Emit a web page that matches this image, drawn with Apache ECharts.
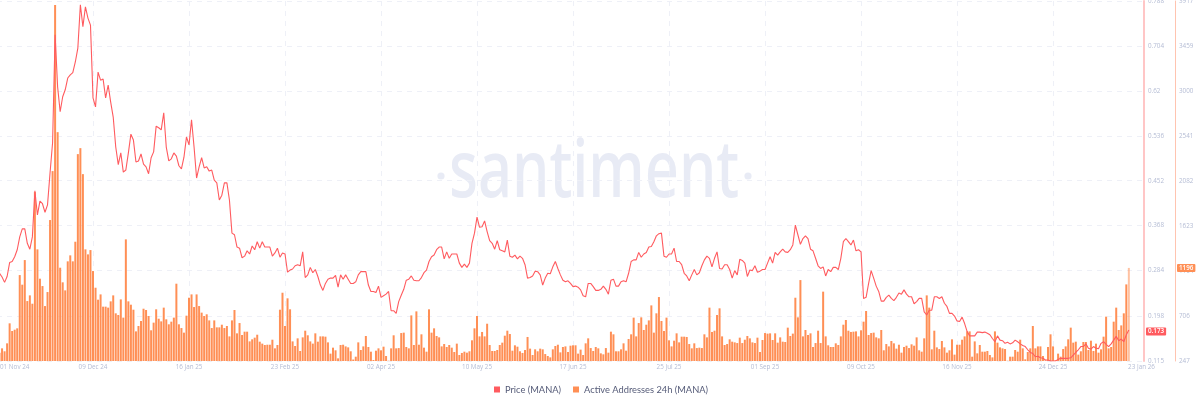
<!DOCTYPE html>
<html>
<head>
<meta charset="utf-8">
<title>MANA</title>
<script src="https://cdn.jsdelivr.net/npm/echarts@6/dist/echarts.min.js"></script>
<style>
html, body { margin: 0; padding: 0; background: #fff; }
#chart { width: 1202px; height: 404px; }
</style>
</head>
<body>
<div id="chart"></div>
<script>
var firstDay = '2024-11-02';

var priceValues = [
  .279,.272,.262,.273,.299,.301,.310,.323,.347,.362,.362,.335,.324,.347,.433,.388,.414,.409,.393,.407,
  .467,.523,.725,.627,.581,.609,.622,.644,.650,.654,.674,.700,.781,.740,.777,.756,.743,.607,.590,.655,
  .640,.642,.607,.631,.599,.571,.515,.482,.504,.468,.472,.504,.539,.528,.487,.489,.502,.483,.478,.465,
  .495,.506,.554,.551,.547,.579,.515,.489,.493,.504,.498,.480,.474,.496,.534,.519,.566,.515,.457,.478,
  .495,.476,.478,.470,.472,.453,.448,.416,.425,.448,.448,.416,.354,.351,.328,.326,.308,.311,.321,.315,
  .330,.323,.338,.326,.338,.328,.328,.328,.311,.317,.326,.309,.317,.315,.281,.285,.287,.293,.295,.293,
  .319,.271,.276,.290,.280,.286,.273,.257,.247,.260,.268,.270,.270,.275,.253,.276,.268,.276,.268,.260,
  .260,.263,.276,.282,.282,.282,.257,.245,.245,.243,.255,.234,.237,.240,.245,.209,.209,.204,.226,.238,
  .249,.266,.268,.274,.266,.265,.265,.271,.280,.285,.301,.310,.313,.323,.328,.328,.306,.319,.307,.315,
  .315,.315,.298,.290,.296,.290,.298,.335,.354,.384,.365,.366,.377,.357,.340,.335,.324,.340,.323,.321,
  .319,.341,.311,.309,.313,.306,.311,.307,.295,.270,.271,.274,.283,.282,.276,.257,.270,.279,.278,.291,
  .301,.288,.276,.266,.263,.265,.260,.254,.255,.253,.248,.237,.235,.260,.260,.254,.247,.247,.249,
  .255,.249,.240,.266,.268,.255,.255,.263,.265,.263,.279,.301,.304,.304,.318,.309,.315,.318,.328,.329,
  .338,.349,.353,.354,.311,.309,.315,.315,.326,.301,.301,.295,.279,.274,.265,.276,.286,.276,.280,.293,
  .304,.311,.307,.291,.307,.319,.288,.287,.295,.295,.286,.270,.284,.276,.305,.303,.298,.273,.285,.284,
  .293,.281,.283,.286,.286,.298,.310,.298,.318,.313,.319,.324,.319,.318,.323,.332,.369,.351,.333,.344,
  .349,.344,.324,.321,.307,.293,.288,.291,.274,.286,.282,.290,.290,.286,.307,.338,.344,.338,.332,.341,
  .321,.323,.319,.232,.234,.260,.284,.270,.255,.245,.227,.227,.234,.238,.232,.228,.234,.242,
  .240,.248,.240,.235,.235,.222,.226,.232,.232,.207,.201,.210,.210,.235,.235,.232,.235,.223,.217,.204,
  .204,.199,.190,.189,.197,.185,.170,.162,.162,.162,.169,.169,.168,.169,.167,.164,.157,.151,.162,.154,
  .153,.148,.150,.147,.149,.154,.151,.147,.144,.142,.136,.131,.129,.123,.124,.121,.120,.117,.117,.115,
  .115,.115,.118,.120,.120,.120,.120,.121,.126,.131,.136,.142,.142,.147,.139,.137,.142,.139,.138,.148,
  .151,.146,.142,.147,.154,.161,.153,.156,.151,.164,.173
];

var addressValues = [
  332,376,346,427,631,553,566,580,1123,1025,1276,858,916,831,1969,1385,1086,1011,807,950,
  1684,2183,3875,2580,1198,1049,967,1263,1324,1263,1463,2356,2417,2152,1385,1334,1378,1164,994,872,
  926,801,801,791,855,916,733,716,875,689,1487,855,821,770,549,604,655,780,767,706,
  560,638,774,678,651,791,672,621,648,689,1035,621,583,536,709,892,926,797,926,807,
  740,706,723,661,583,661,590,590,617,583,604,498,661,767,529,634,512,546,546,447,
  468,485,515,444,424,410,413,413,464,376,410,770,943,604,886,774,447,400,478,349,
  488,556,509,447,424,529,444,498,498,495,437,322,383,356,274,410,413,396,386,346,
  262,291,437,359,396,502,390,342,257,352,376,356,393,298,250,376,509,376,379,532,
  536,390,376,712,410,753,413,519,383,342,774,536,580,502,488,396,420,390,410,383,
  339,424,308,329,342,332,346,458,580,706,498,543,498,627,410,349,349,359,410,434,
  505,556,522,352,407,393,346,329,359,492,373,308,366,346,373,366,318,298,284,366,
  400,413,335,390,396,339,403,407,407,322,363,308,427,478,379,349,390,376,325,
  315,379,332,546,519,346,346,366,427,352,471,519,689,498,634,692,563,617,661,814,
  536,733,899,655,553,689,458,396,454,529,437,495,495,492,420,376,427,379,383,379,
  519,488,791,543,556,716,784,498,410,420,468,444,437,430,485,430,464,502,478,437,
  430,485,339,461,532,526,529,461,529,434,488,444,441,587,502,526,892,692,1072,498,
  563,512,529,390,430,556,430,954,498,407,390,390,427,410,498,617,665,556,543,546,
  549,498,560,648,757,512,532,536,488,478,563,356,420,396,451,427,373,413,
  332,390,403,379,417,403,488,356,342,478,916,791,366,556,386,369,451,386,332,356,
  468,312,413,413,464,498,549,549,291,447,325,410,342,342,349,308,284,549,434,386,
  376,369,250,291,291,359,342,464,376,264,339,376,604,376,396,396,298,254,390,519,
  396,254,322,291,369,396,468,587,434,444,312,346,441,441,359,454,349,424,332,366,
  495,699,376,390,648,791,563,610,733,1028,1196
];

var gridDays = ['2024-12-09','2025-01-16','2025-02-23','2025-04-02','2025-05-10','2025-06-17','2025-07-25','2025-09-01','2025-10-09','2025-11-16','2025-12-24'];
var tickLabels = ['01 Nov 24','09 Dec 24','16 Jan 25','23 Feb 25','02 Apr 25','10 May 25','17 Jun 25','25 Jul 25','01 Sep 25','09 Oct 25','16 Nov 25','24 Dec 25','23 Jan 26'];
// the first and last labels sit inside the plot edges, away from their own date
var tickLabelDays = ['2024-11-08'].concat(gridDays, ['2026-01-28']);
var priceTicks = [0.115,0.198,0.284,0.368,0.452,0.536,0.62,0.704,0.788];
var addressTicks = [247,706,1164,1623,2082,2541,3000,3459,3917];

// x axis counts days from firstDay
function dayNo(d) { return Math.round((Date.parse(d) - Date.parse(firstDay)) / 86400000); }

var priceData = priceValues.map(function (v, i) { return [i, v]; });
var addressData = addressValues.map(function (v, i) {
    var item = { value: [i, v] };
    if (i === addressValues.length - 1) item.itemStyle = { opacity: 0.55 };
    return item;
});

var labelByDay = {};
tickLabelDays.forEach(function (d, i) { labelByDay[dayNo(d)] = tickLabels[i]; });

var axisTextColor = '#b4bcd4';
var gridColor = '#eef0f7';
var priceColor = '#ff5b5f';
var addressColor = '#ff8f55';
var watermarkColor = '#e8ebf5';
var axisFont = 6.3;

var chart = echarts.init(document.getElementById('chart'));
chart.setOption({
    animation: false,
    grid: { left: -3, right: 58, top: 1, bottom: 43, outerBoundsMode: 'none' },
    graphic: [
        { type: 'text', x: 449, y: 134, scaleX: 0.745, z: -1, silent: true,
          style: { text: 'santiment', fill: watermarkColor, font: '500 80px "Noto Sans"' } },
        { type: 'circle', z: -1, silent: true, shape: { cx: 441, cy: 176, r: 3.6 }, style: { fill: watermarkColor } },
        { type: 'circle', z: -1, silent: true, shape: { cx: 748, cy: 176, r: 3.6 }, style: { fill: watermarkColor } }
    ],
    legend: {
        bottom: 5,
        left: 'center',
        icon: 'rect',
        itemWidth: 6,
        itemHeight: 6,
        itemGap: 12,
        textStyle: { color: '#555b78', fontSize: 9.3, fontFamily: 'Lato' },
        data: ['Price (MANA)', 'Active Addresses 24h (MANA)']
    },
    xAxis: {
        type: 'value',
        min: dayNo('2024-11-01'),
        max: dayNo('2026-01-29'),
        axisLine: { show: false },
        axisTick: { show: false, customValues: gridDays.map(dayNo) },
        axisLabel: {
            customValues: tickLabelDays.map(dayNo),
            formatter: function (v) { return labelByDay[v]; },
            color: axisTextColor,
            fontSize: axisFont,
            fontFamily: 'Open Sans',
            margin: 3
        },
        splitLine: { show: true, lineStyle: { color: gridColor, type: [5, 5] } }
    },
    yAxis: [
        {
            type: 'value',
            position: 'right',
            min: 0.115,
            max: 0.788,
            axisLine: { show: true, onZero: false, lineStyle: { color: '#ffc6c6', width: 2 } },
            axisTick: { show: false, customValues: priceTicks },
            axisLabel: {
                customValues: priceTicks,
                formatter: function (v) { return String(v); },
                color: axisTextColor, fontSize: axisFont, fontFamily: 'Open Sans', margin: 4
            },
            splitLine: { show: true, lineStyle: { color: gridColor, type: [5, 5] } }
        },
        {
            type: 'value',
            position: 'right',
            offset: 31,
            min: 247,
            max: 3917,
            axisLine: { show: true, onZero: false, lineStyle: { color: '#ffc4b0', width: 1 } },
            axisTick: { show: false, customValues: addressTicks },
            axisLabel: {
                customValues: addressTicks,
                formatter: function (v) { return String(v); },
                color: axisTextColor, fontSize: axisFont, fontFamily: 'Open Sans', margin: 4
            },
            splitLine: { show: false }
        }
    ],
    series: [
        {
            name: 'Active Addresses 24h (MANA)',
            type: 'bar',
            yAxisIndex: 1,
            barWidth: 2,
            itemStyle: { color: addressColor },
            data: addressData,
            z: 2,
            markLine: {
                silent: true,
                symbol: 'none',
                lineStyle: { color: 'transparent' },
                data: [{ yAxis: addressValues[addressValues.length - 1] }],
                label: {
                    position: 'end', distance: 33, formatter: String(addressValues[addressValues.length - 1]),
                    color: '#fff', fontSize: axisFont, fontFamily: 'Open Sans', fontWeight: 600,
                    backgroundColor: addressColor, padding: [1, 2, 1, 2], borderRadius: 1
                }
            }
        },
        {
            name: 'Price (MANA)',
            type: 'line',
            yAxisIndex: 0,
            showSymbol: false,
            lineStyle: { color: priceColor, width: 1.1 },
            itemStyle: { color: priceColor },
            data: priceData,
            z: 3,
            markLine: {
                silent: true,
                symbol: 'none',
                lineStyle: { color: 'transparent' },
                data: [{ yAxis: priceValues[priceValues.length - 1] }],
                label: {
                    position: 'end', distance: 2, formatter: String(priceValues[priceValues.length - 1]),
                    color: '#fff', fontSize: axisFont, fontFamily: 'Open Sans', fontWeight: 600,
                    backgroundColor: priceColor, padding: [1, 2, 1, 2], borderRadius: 1
                }
            }
        }
    ]
});
</script>
</body>
</html>
